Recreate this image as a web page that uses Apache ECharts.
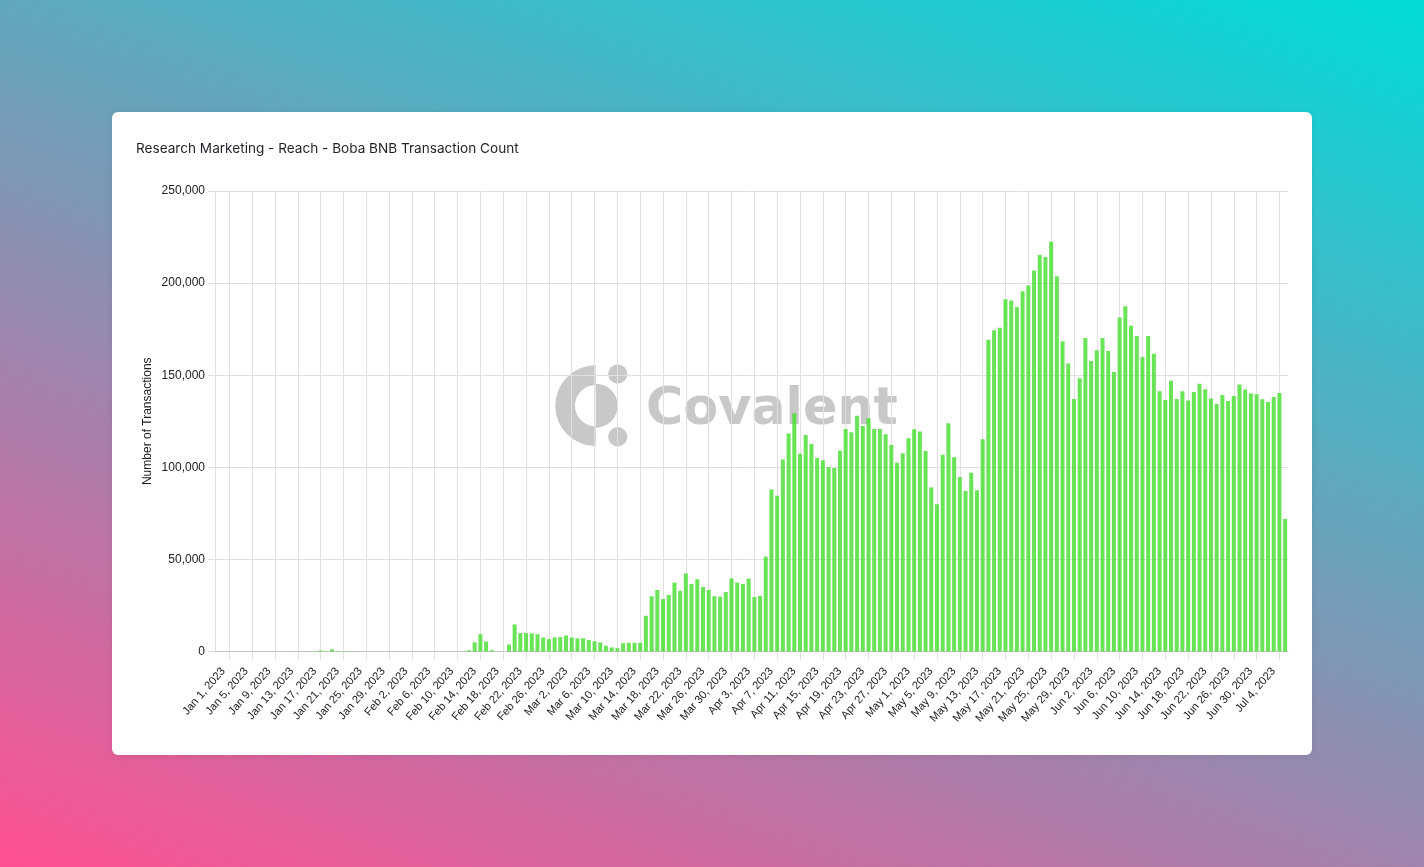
<!DOCTYPE html>
<html>
<head>
<meta charset="utf-8">
<style>
html,body{margin:0;padding:0;width:1424px;height:867px;overflow:hidden;}
body{background:linear-gradient(20deg,#ff4f92 0%,#00dcd8 100%);position:relative;}
#card{position:absolute;left:112px;top:112px;width:1200px;height:643px;background:#fff;border-radius:6px;box-shadow:0 1px 6px rgba(0,0,0,.08);}
#chart{position:absolute;left:0;top:0;width:1424px;height:867px;}
</style>
</head>
<body>
<div id="card"></div>
<div id="chart"></div>
<script src="https://cdn.jsdelivr.net/npm/echarts@6/dist/echarts.min.js"></script>
<script>
const chartTitle = 'Research Marketing - Reach - Boba BNB Transaction Count';
const yAxisName = 'Number of Transactions';
const watermarkText = 'Covalent';
const categories = [
'Dec 30, 2022','Dec 31, 2022',
'Jan 1, 2023','Jan 2, 2023','Jan 3, 2023','Jan 4, 2023','Jan 5, 2023','Jan 6, 2023','Jan 7, 2023','Jan 8, 2023','Jan 9, 2023','Jan 10, 2023','Jan 11, 2023','Jan 12, 2023','Jan 13, 2023','Jan 14, 2023','Jan 15, 2023','Jan 16, 2023','Jan 17, 2023','Jan 18, 2023','Jan 19, 2023','Jan 20, 2023','Jan 21, 2023','Jan 22, 2023','Jan 23, 2023','Jan 24, 2023','Jan 25, 2023','Jan 26, 2023','Jan 27, 2023','Jan 28, 2023','Jan 29, 2023','Jan 30, 2023','Jan 31, 2023',
'Feb 1, 2023','Feb 2, 2023','Feb 3, 2023','Feb 4, 2023','Feb 5, 2023','Feb 6, 2023','Feb 7, 2023','Feb 8, 2023','Feb 9, 2023','Feb 10, 2023','Feb 11, 2023','Feb 12, 2023','Feb 13, 2023','Feb 14, 2023','Feb 15, 2023','Feb 16, 2023','Feb 17, 2023','Feb 18, 2023','Feb 19, 2023','Feb 20, 2023','Feb 21, 2023','Feb 22, 2023','Feb 23, 2023','Feb 24, 2023','Feb 25, 2023','Feb 26, 2023','Feb 27, 2023','Feb 28, 2023',
'Mar 1, 2023','Mar 2, 2023','Mar 3, 2023','Mar 4, 2023','Mar 5, 2023','Mar 6, 2023','Mar 7, 2023','Mar 8, 2023','Mar 9, 2023','Mar 10, 2023','Mar 11, 2023','Mar 12, 2023','Mar 13, 2023','Mar 14, 2023','Mar 15, 2023','Mar 16, 2023','Mar 17, 2023','Mar 18, 2023','Mar 19, 2023','Mar 20, 2023','Mar 21, 2023','Mar 22, 2023','Mar 23, 2023','Mar 24, 2023','Mar 25, 2023','Mar 26, 2023','Mar 27, 2023','Mar 28, 2023','Mar 29, 2023','Mar 30, 2023','Mar 31, 2023',
'Apr 1, 2023','Apr 2, 2023','Apr 3, 2023','Apr 4, 2023','Apr 5, 2023','Apr 6, 2023','Apr 7, 2023','Apr 8, 2023','Apr 9, 2023','Apr 10, 2023','Apr 11, 2023','Apr 12, 2023','Apr 13, 2023','Apr 14, 2023','Apr 15, 2023','Apr 16, 2023','Apr 17, 2023','Apr 18, 2023','Apr 19, 2023','Apr 20, 2023','Apr 21, 2023','Apr 22, 2023','Apr 23, 2023','Apr 24, 2023','Apr 25, 2023','Apr 26, 2023','Apr 27, 2023','Apr 28, 2023','Apr 29, 2023','Apr 30, 2023',
'May 1, 2023','May 2, 2023','May 3, 2023','May 4, 2023','May 5, 2023','May 6, 2023','May 7, 2023','May 8, 2023','May 9, 2023','May 10, 2023','May 11, 2023','May 12, 2023','May 13, 2023','May 14, 2023','May 15, 2023','May 16, 2023','May 17, 2023','May 18, 2023','May 19, 2023','May 20, 2023','May 21, 2023','May 22, 2023','May 23, 2023','May 24, 2023','May 25, 2023','May 26, 2023','May 27, 2023','May 28, 2023','May 29, 2023','May 30, 2023','May 31, 2023',
'Jun 1, 2023','Jun 2, 2023','Jun 3, 2023','Jun 4, 2023','Jun 5, 2023','Jun 6, 2023','Jun 7, 2023','Jun 8, 2023','Jun 9, 2023','Jun 10, 2023','Jun 11, 2023','Jun 12, 2023','Jun 13, 2023','Jun 14, 2023','Jun 15, 2023','Jun 16, 2023','Jun 17, 2023','Jun 18, 2023','Jun 19, 2023','Jun 20, 2023','Jun 21, 2023','Jun 22, 2023','Jun 23, 2023','Jun 24, 2023','Jun 25, 2023','Jun 26, 2023','Jun 27, 2023','Jun 28, 2023','Jun 29, 2023','Jun 30, 2023',
'Jul 1, 2023','Jul 2, 2023','Jul 3, 2023','Jul 4, 2023','Jul 5, 2023'
];
const transactions = [
0,0,0,0,0,0,0,0,0,0,
0,0,0,100,100,100,100,200,600,200,
1200,300,100,200,100,100,0,0,0,0,
100,100,0,0,0,0,0,0,0,0,
0,0,0,100,700,5000,9400,5400,700,0,
0,3800,14700,10000,10000,9800,9400,7600,6700,7600,
7800,8700,7600,7100,7200,6200,5600,4900,3100,2200,
1800,4500,4700,4700,4700,19400,30000,33400,28500,30700,
37400,32900,42400,36700,39200,35000,33400,30000,29800,32300,
39700,37400,36700,39500,29600,30100,51500,88000,84600,104300,
118300,129300,107400,117600,112700,105000,103800,100000,99600,109000,
120800,119000,128000,122400,126600,120800,120800,118000,112100,102500,
107600,115800,120600,119400,108900,89000,79900,106800,123900,105400,
94700,87200,97100,87500,115200,169200,174400,175700,191200,190500,
187000,195600,198700,206800,215300,214200,222400,203700,168400,156300,
137100,148400,170200,157700,163500,170200,163200,151800,181300,187400,
176800,171300,159900,171300,161700,141300,136600,147000,137100,141300,
136200,140900,145400,142400,137300,134400,139300,136000,138700,145000,
142200,140000,139600,136900,135500,138200,140400,71900
];
const yMax = 250000;
const yStep = 50000;

const textFont = '"Liberation Sans", Arial, sans-serif';
const everyFourth = (index) => index >= 2 && (index - 2) % 4 === 0;
const gridColor = '#e0e0e0';

const chart = echarts.init(document.getElementById('chart'), null, {renderer: 'canvas'});
chart.setOption({
  animation: false,
  backgroundColor: 'transparent',
  title: {
    text: chartTitle, left: 131, top: 136,
    textStyle: {fontFamily: 'Inter', fontSize: 13.6, fontWeight: 400, color: '#1f2328', lineHeight: 16}
  },
  grid: {left: 215, right: 136, top: 191, bottom: 215.5, containLabel: false},
  graphic: {
    elements: [
      {type: 'sector', z: -1, shape: {cx: 595.7, cy: 405.7, r: 40.5, r0: 20.7, startAngle: Math.PI / 2, endAngle: Math.PI * 3 / 2, clockwise: true}, style: {fill: '#c8c8c8'}},
      {type: 'sector', z: -1, shape: {cx: 595.7, cy: 405.7, r: 22, r0: 0, startAngle: -Math.PI / 2, endAngle: Math.PI / 2, clockwise: true}, style: {fill: '#c8c8c8'}},
      {type: 'circle', z: -1, shape: {cx: 617.7, cy: 374, r: 9.6}, style: {fill: '#c8c8c8'}},
      {type: 'circle', z: -1, shape: {cx: 617.7, cy: 436.7, r: 9.6}, style: {fill: '#c8c8c8'}},
      {type: 'text', z: -1, x: 646, y: 385, style: {text: watermarkText, fill: '#c8c8c8', font: 'bold 50.8px "DejaVu Sans"'}}
    ]
  },
  xAxis: {
    type: 'category',
    data: categories,
    boundaryGap: true,
    axisLine: {show: true, onZero: true, lineStyle: {color: '#c4c4c4', width: 1}},
    axisTick: {show: true, alignWithLabel: true, length: 8, interval: (i) => everyFourth(i), lineStyle: {color: gridColor}},
    splitLine: {show: true, alignWithLabel: true, interval: (i) => everyFourth(i), lineStyle: {color: gridColor, width: 1}},
    axisLabel: {
      interval: (i) => everyFourth(i),
      rotate: 49, margin: 11, padding: [0, 9, 0, 0], fontFamily: textFont, fontSize: 11.2, color: '#222', hideOverlap: false
    }
  },
  yAxis: {
    type: 'value',
    min: 0, max: yMax, interval: yStep,
    name: yAxisName,
    nameLocation: 'middle',
    nameGap: 61,
    nameMoveOverlap: false,
    nameTextStyle: {fontFamily: textFont, fontSize: 12, color: '#222'},
    axisLine: {show: true, lineStyle: {color: gridColor}},
    axisTick: {show: true, length: 7, lineStyle: {color: gridColor}},
    splitLine: {show: true, lineStyle: {color: gridColor, width: 1}},
    axisLabel: {
      margin: 10, fontFamily: textFont, fontSize: 12, color: '#222',
      formatter: (v) => v.toLocaleString('en-US')
    }
  },
  series: [{
    type: 'bar',
    name: chartTitle,
    data: transactions,
    barWidth: 4,
    itemStyle: {color: 'rgba(72,222,50,0.82)'},
    silent: true
  }]
});
</script>
</body>
</html>
